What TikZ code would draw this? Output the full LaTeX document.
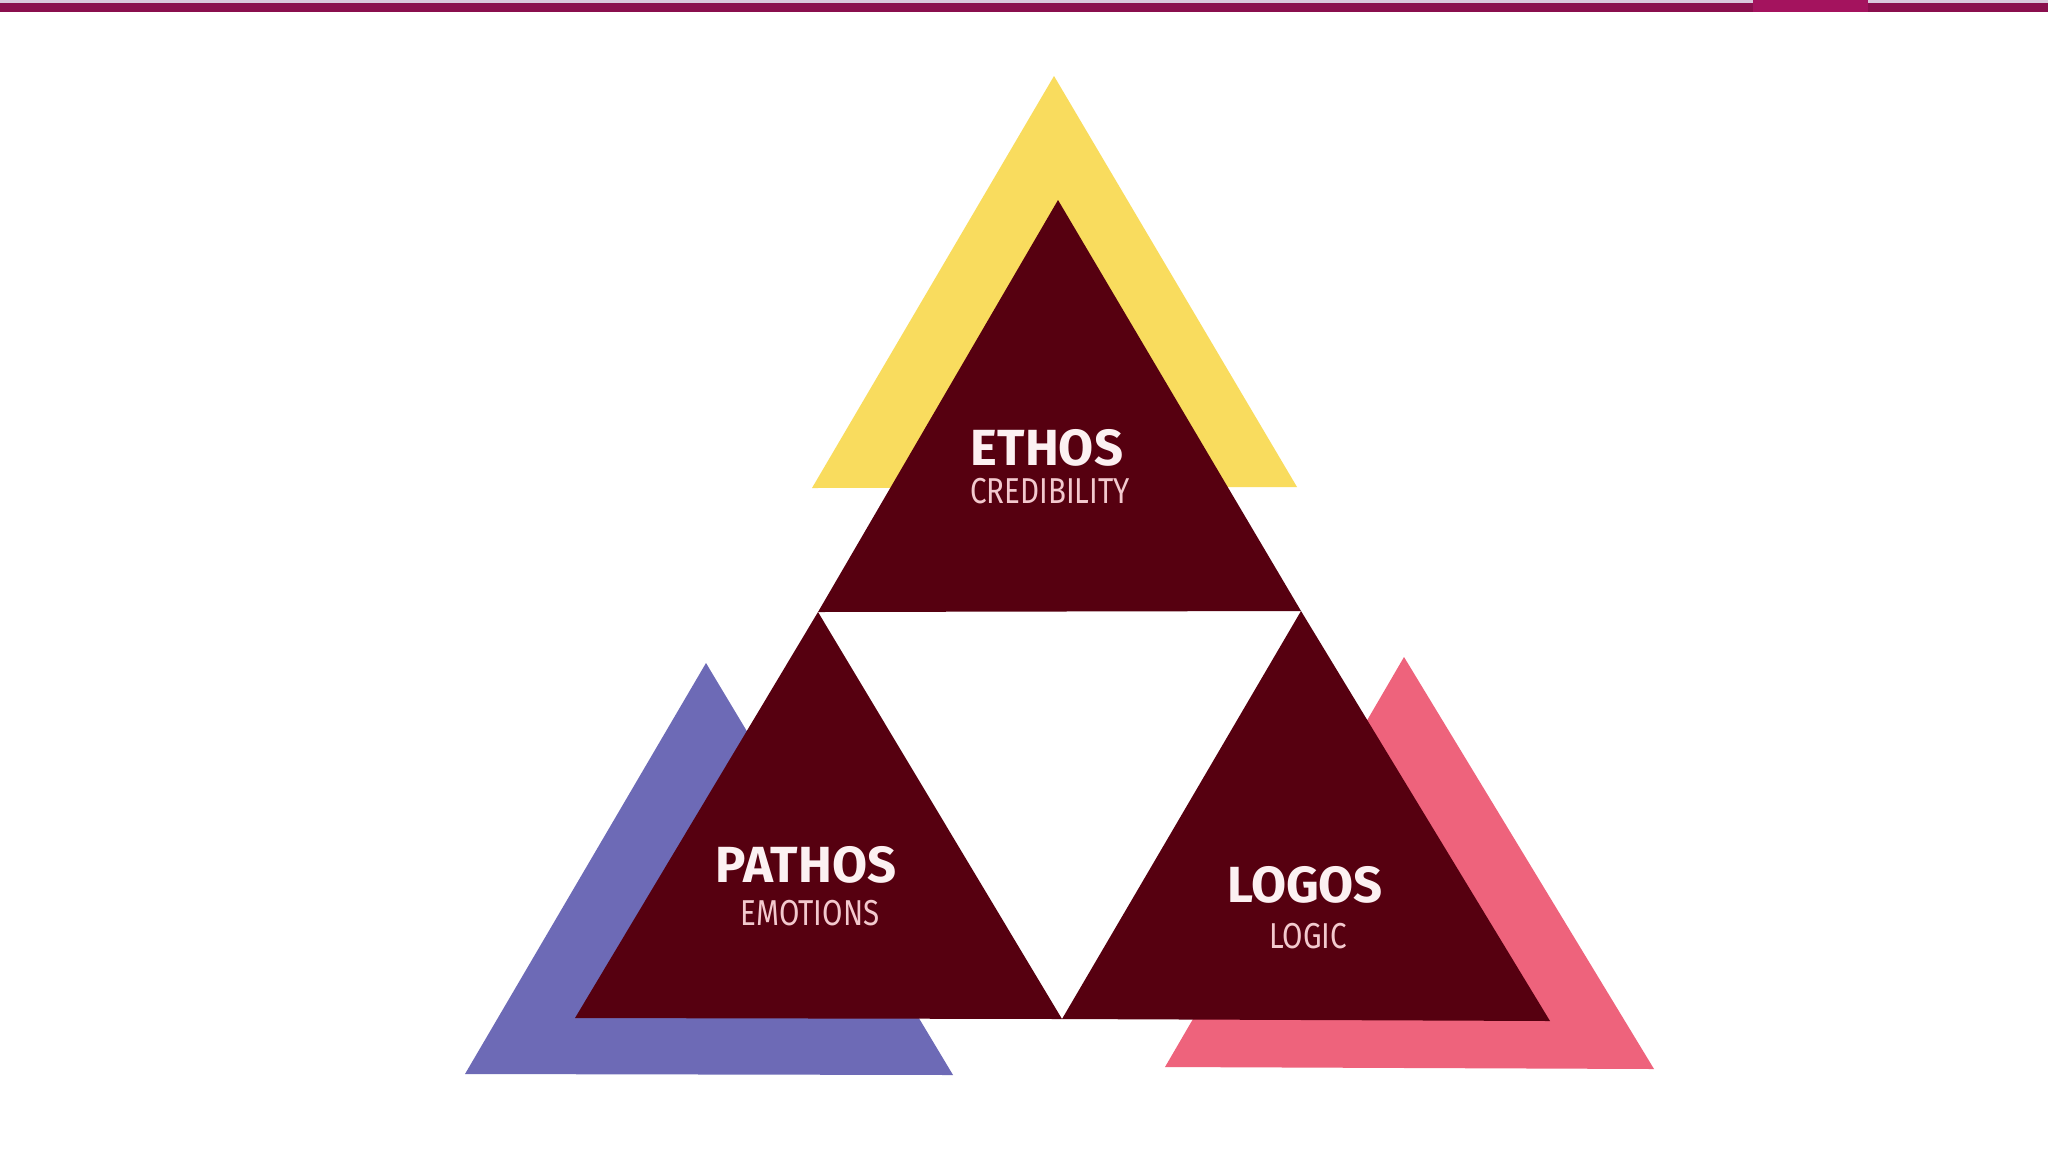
\documentclass[tikz,border=0pt]{standalone}
\usepackage{fontspec}
\setmainfont{Fira Sans}
\definecolor{barc}{HTML}{8A0F4E}
\definecolor{tabc}{HTML}{A4135E}
\definecolor{linec}{HTML}{D9C8DC}
\definecolor{darkc}{HTML}{560010}
\definecolor{yellowc}{HTML}{F9DC5E}
\definecolor{bluec}{HTML}{6D6AB6}
\definecolor{pinkc}{HTML}{EE637C}
\definecolor{titlec}{HTML}{FCF1F2}
\definecolor{subc}{HTML}{F3C9CE}
\tikzset{
  titletext/.style={font=\fontsize{25.4}{28}\selectfont\bfseries, text=titlec, anchor=base, inner sep=0pt},
  subtext/.style={font=\fontsize{18}{20}\selectfont, text=subc, anchor=base, inner sep=0pt},
}
\begin{document}
\begin{tikzpicture}[x=0.5pt,y=-0.5pt]
\useasboundingbox (0,0) rectangle (2048,1152);
\fill[white] (0,0) rectangle (2048,1152);
% top bar
\fill[linec] (0,0) rectangle (2048,3);
\fill[barc] (0,3) rectangle (2048,12);
\fill[tabc] (1753,0) rectangle (1868,12);
% coordinates of the dark Sierpinski figure
\coordinate (A) at (1058,200);
\coordinate (AL) at (818,612);
\coordinate (AR) at (1301,611);
\coordinate (L) at (575,1018);
\coordinate (LR) at (1062,1019);
\coordinate (R) at (1550,1021);
% coloured back triangles
\fill[yellowc] (1054,76) -- (812,488) -- (1297,487) -- cycle;
\fill[bluec] (706,663) -- (465,1074) -- (953,1075) -- cycle;
\fill[pinkc] (1404,657) -- (1165,1067) -- (1654,1069) -- cycle;
% dark triangles
\fill[darkc] (A) -- (AL) -- (AR) -- cycle;
\fill[darkc] (AL) -- (L) -- (LR) -- cycle;
\fill[darkc] (AR) -- (LR) -- (R) -- cycle;
% texts
\node[titletext] (ethos) at (1047,465) {ETHOS};
\node[subtext] (cred) at (1050,503) {\scalebox{0.82}[1]{CREDIBILITY}};
\node[titletext] (pathos) at (806,882) {PATHOS};
\node[subtext] (emo) at (810,925) {\scalebox{0.82}[1]{EMOTIONS}};
\node[titletext] (logos) at (1305,902) {LOGOS};
\node[subtext] (logic) at (1308,948) {\scalebox{0.82}[1]{LOGIC}};
\end{tikzpicture}
\end{document}
